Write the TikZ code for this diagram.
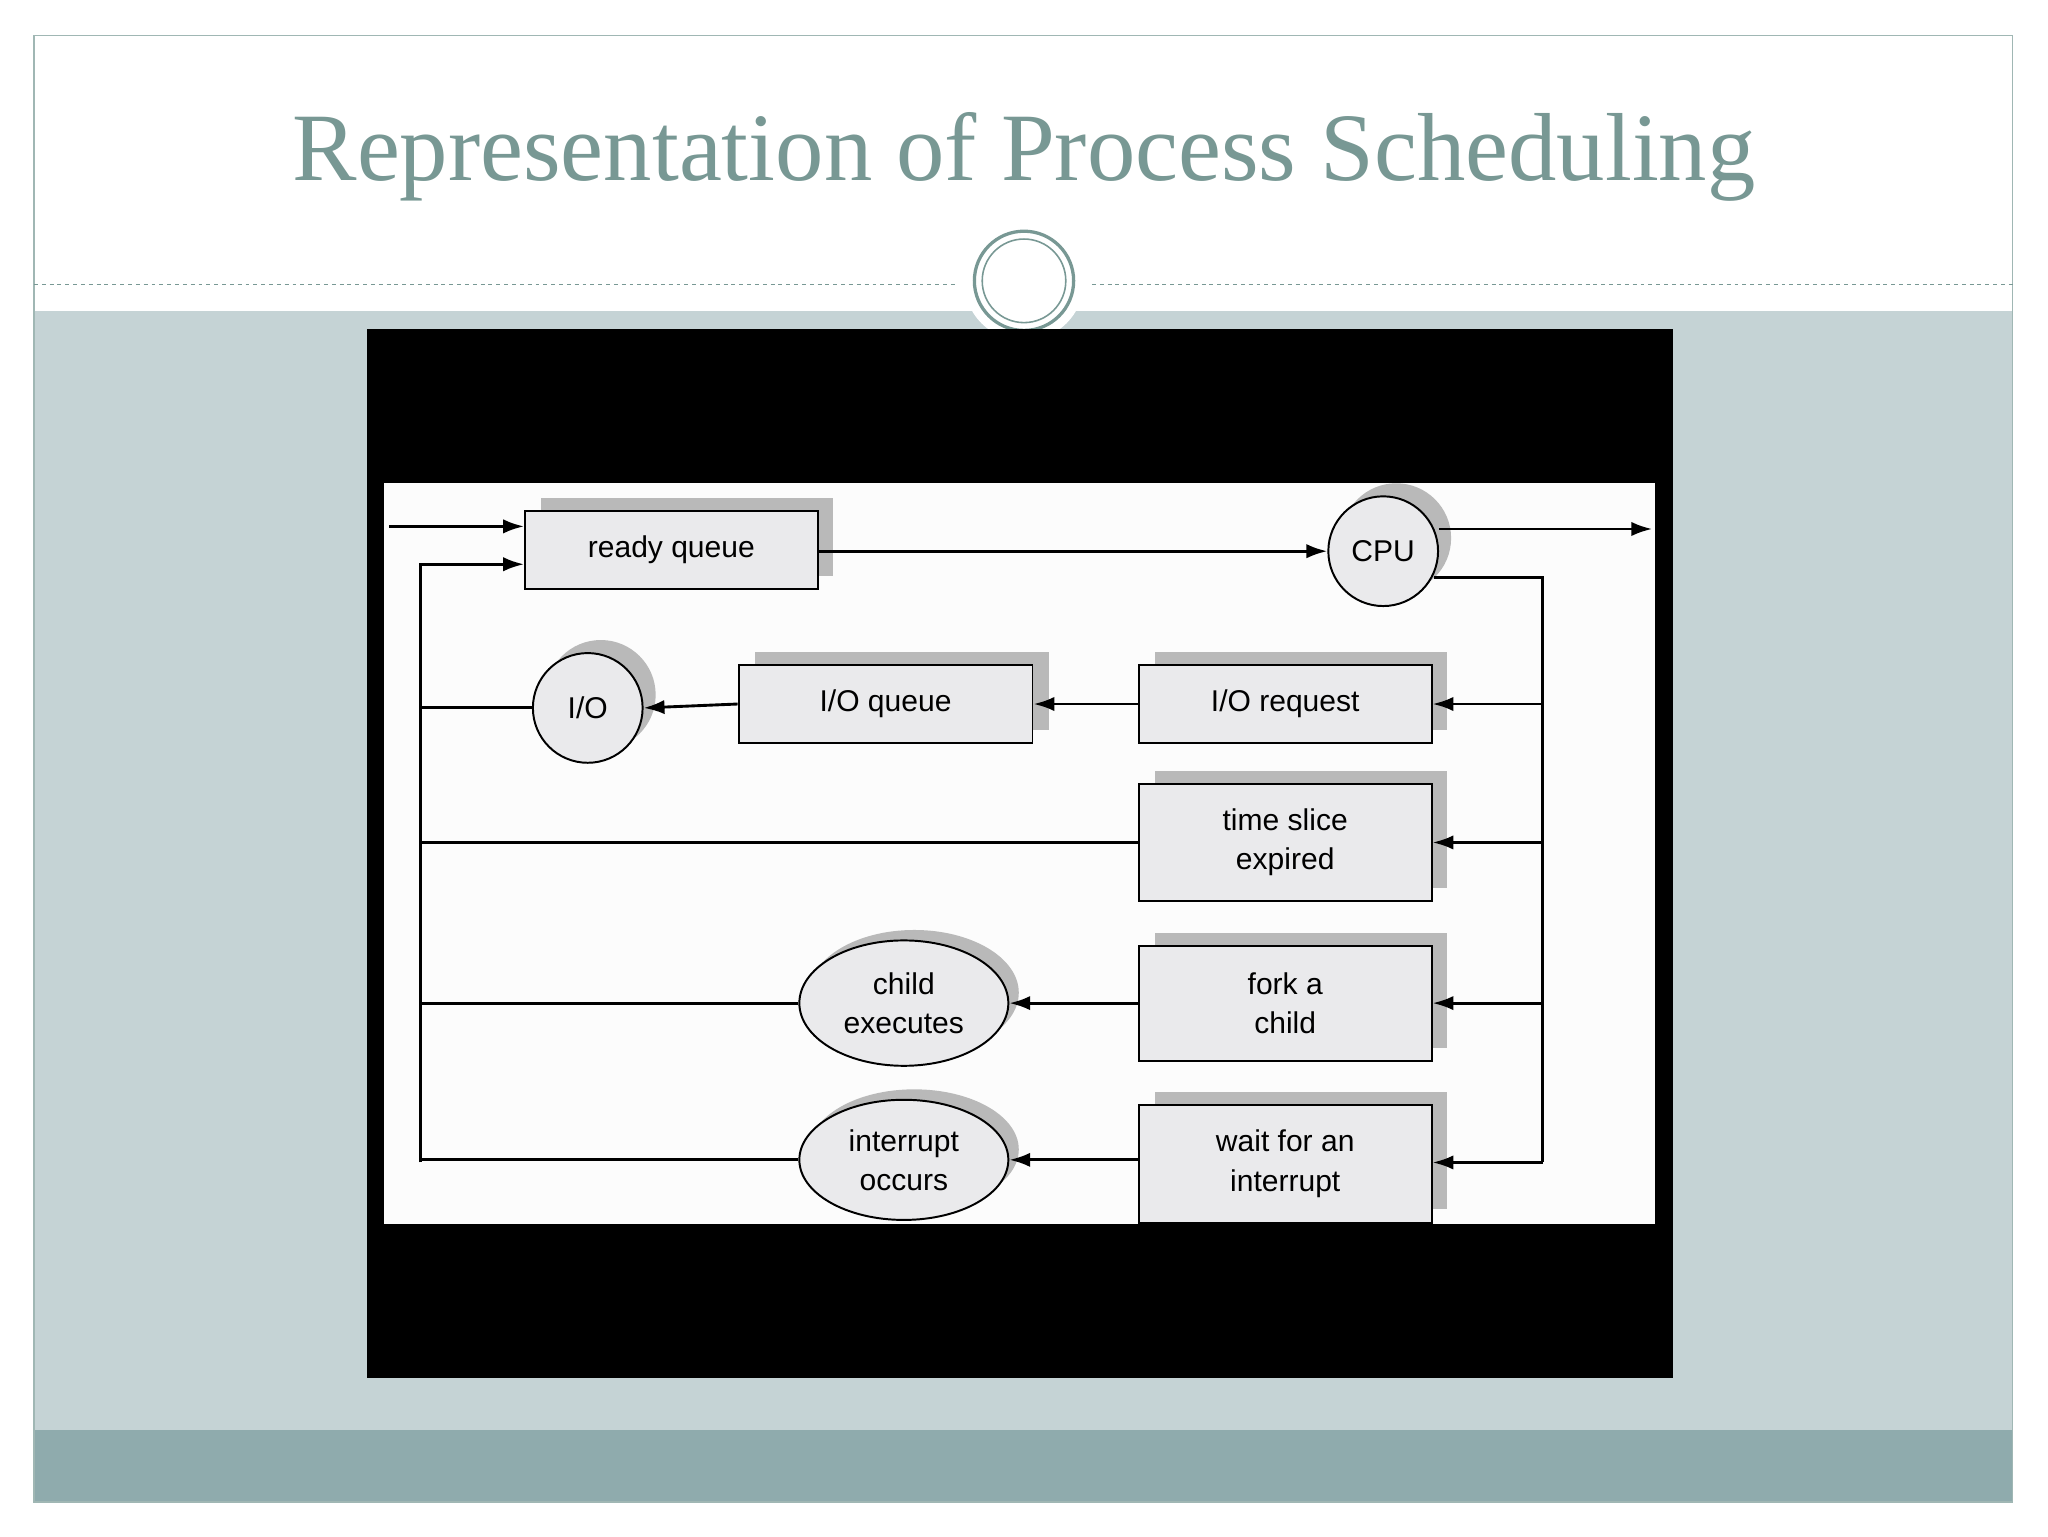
\documentclass[tikz,border=0pt]{standalone}
\usepackage{fontspec}
\setsansfont{Liberation Sans}
\setmainfont{Liberation Serif}
\usetikzlibrary{shapes.geometric,arrows.meta}
\definecolor{teal1}{RGB}{120,152,148}
\definecolor{panel}{RGB}{197,211,213}
\definecolor{band}{RGB}{143,171,173}
\definecolor{boxg}{RGB}{234,234,236}
\tikzset{
 bx/.style={draw=black,line width=1.5pt,fill=boxg,font=\sffamily\fontsize{23}{30}\selectfont,align=center,inner sep=0pt},
 ln/.style={line width=2.2pt},
 ar/.style={line width=2.2pt,-{Latex[length=16pt,width=11pt]}}
}
\begin{document}
\begin{tikzpicture}[x=1pt,y=-1pt]
\useasboundingbox (0,0) rectangle (1568,1176);
\fill[white] (0,0) rectangle (1568,1176);
\fill[panel] (26,238) rectangle (1541,1095);
\fill[band] (26,1095) rectangle (1541,1150);
\draw[teal1!70,line width=1pt] (26,27) rectangle (1541,1150);
\node[text=teal1,font=\fontsize{74}{80}\selectfont] (title) at (784,120) {Representation of Process Scheduling};
\draw[teal1,dashed,line width=0.8pt] (26,218) -- (732,218);
\draw[teal1,dashed,line width=0.8pt] (836,218) -- (1541,218);
\fill[white] (784,215) circle (46);
\draw[teal1,line width=2.5pt] (784,215) circle (38);
\draw[teal1,line width=1.2pt] (784,215) circle (32);
\fill[black] (281,252) rectangle (1281,1055);
\fill[white!98!gray] (294,370) rectangle (1267,937);
% shadows
\foreach \a/\b/\c/\d in {402/391/626/451, 566/509/791/569, 872/509/1096/569, 872/600/1096/690, 872/724/1096/812, 872/846/1096/936}
  \fill[gray!55] (\a+12,\b-10) rectangle (\c+12,\d-10);
\fill[gray!55] (1069,412) circle (42);
\fill[gray!55] (460,532) circle (42);
\fill[gray!55] (700,760) ellipse (80 and 48);
\fill[gray!55] (700,880) ellipse (80 and 46);
% nodes
\node[bx,minimum width=224pt,minimum height=60pt] (rq) at (514,421) {ready queue};
\node[bx,circle,minimum size=84pt] (cpu) at (1059,422) {CPU};
\node[bx,circle,minimum size=84pt] (io) at (450,542) {I/O};
\node[bx,minimum width=225pt,minimum height=60pt] (ioq) at (678,539) {I/O queue};
\node[bx,minimum width=224pt,minimum height=60pt] (ior) at (984,539) {I/O request};
\node[bx,minimum width=224pt,minimum height=90pt] (ts) at (984,645) {time slice\\expired};
\node[bx,minimum width=224pt,minimum height=88pt] (fork) at (984,768) {fork a\\child};
\node[bx,minimum width=224pt,minimum height=90pt] (wait) at (984,891) {wait for an\\interrupt};
\node[bx,ellipse,minimum width=160pt,minimum height=96pt] (ce) at (692,768) {child\\executes};
\node[bx,ellipse,minimum width=160pt,minimum height=92pt] (io2) at (692,888) {interrupt\\occurs};
% coordinates
\coordinate (in1) at (298,403);
\coordinate (out) at (1265,405);
\coordinate (L1) at (322,432);
\coordinate (L5) at (322,890);
\coordinate (R0) at (1181,442);
\coordinate (R5) at (1181,890);
% connectors
\draw[ar] (in1) -- (rq.west |- in1);
\draw[ar] (L5) -- (L1) -- (rq.west |- L1);
\draw[ar] (rq.east |- cpu) -- (cpu.west);
\draw[ar] (cpu.east |- out) ++(0,0) -- (out);
\draw[ln] (cpu.east |- R0) ++(-4,0) -- (R0) -- (R5);
\draw[ar] (R5 |- ior) -- (ior.east);
\draw[ar] (R5 |- ts) -- (ts.east);
\draw[ar] (R5 |- fork) -- (fork.east);
\draw[ar] (R5) -- (wait.east |- R5);
\draw[ar] (ior.west) -- (ioq.east);
\draw[ar] (ioq.west) -- (io.east);
\draw[ln] (io.west) -- (L1 |- io);
\draw[ln] (ts.west) -- (L1 |- ts);
\draw[ar] (fork.west) -- (ce.east);
\draw[ln] (ce.west) -- (L1 |- ce);
\draw[ar] (wait.west |- io2) -- (io2.east);
\draw[ln] (io2.west) -- (L5 |- io2);
\end{tikzpicture}
\end{document}
